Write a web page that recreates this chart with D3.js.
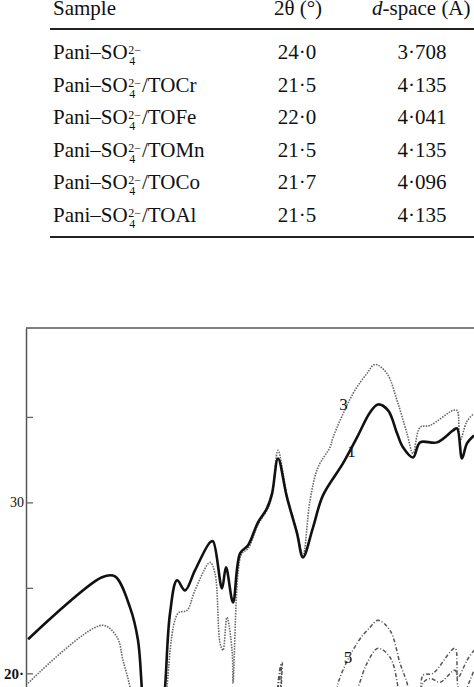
<!DOCTYPE html>
<html>
<head>
<meta charset="utf-8">
<script src="https://cdn.jsdelivr.net/npm/d3@7"></script>
<style>
    body { margin: 0; background: #fff; }
    svg { display: block; }
    text { font-family: "Liberation Serif", "Times New Roman", serif; fill: #111; }
</style>
</head>
<body>
<div id="chart"></div>
<script>
// Table data
var sampleSuffix = ['', '/TOCr', '/TOFe', '/TOMn', '/TOCo', '/TOAl'];
var twoTheta = ['24·0', '21·5', '22·0', '21·5', '21·7', '21·5'];
var dSpace = ['3·708', '4·135', '4·041', '4·135', '4·096', '4·135'];

// Axis ticks
var yTicks = [20, 25, 30, 35];
var yTickLabels = {20: '20·', 30: '30'};

// Pattern curves [2theta, intensity]
var curve1 = [[5.13, 21.99], [9.75, 25.62], [10.56, 25.67], [11.5, 23.86], [12.0, 21.93], [12.25, 19.0],
    [12.4, 17.5], [13.5, 17.5], [13.69, 19.2], [14.0, 23.5], [14.44, 25.44], [14.94, 24.85], [15.56, 26.02],
    [16.5, 27.66], [16.69, 27.72], [17.25, 24.97], [17.5, 26.2], [17.94, 24.15], [18.38, 27.02], [18.88, 27.49],
    [19.5, 28.83], [20.06, 29.65], [20.38, 30.53], [20.75, 32.57], [21.31, 30.29], [21.94, 28.19], [22.31, 26.78],
    [22.94, 28.54], [23.56, 30.41], [24.81, 32.28], [25.69, 33.8], [26.5, 35.26], [27.0, 35.73], [27.63, 35.38],
    [28.19, 34.04], [28.56, 33.22], [29.19, 32.63], [29.63, 33.51], [30.69, 33.51], [31.69, 34.21], [31.94, 34.33],
    [32.25, 32.57], [32.56, 33.45], [33.0, 33.92]];

var curve3 = [[5.13, 19.42], [9.75, 22.81], [10.69, 22.11], [11.06, 20.76], [11.5, 19.18], [11.7, 17.5],
    [13.7, 17.5], [13.81, 19.18], [14.5, 23.51], [15.06, 23.68], [15.56, 24.85], [16.5, 26.49], [16.81, 25.85],
    [17.13, 21.76], [17.31, 21.35], [17.56, 23.27], [17.88, 21.35], [17.94, 19.42], [18.25, 25.85], [18.5, 27.02],
    [18.88, 27.3], [19.5, 28.7], [20.06, 29.55], [20.38, 30.4], [20.75, 33.04], [21.31, 30.4], [21.94, 28.3],
    [22.31, 26.9], [22.75, 30.12], [23.25, 32.05], [24.0, 33.22], [24.19, 33.8], [25.44, 36.37], [26.31, 37.54],
    [26.81, 38.07], [27.56, 37.54], [28.19, 35.96], [28.81, 34.04], [29.19, 32.86], [29.63, 34.39], [30.25, 34.5],
    [31.69, 35.38], [31.94, 35.38], [32.13, 33.62], [32.56, 34.74], [33.0, 35.2]];

var curve4 = [[20.6, 17.5], [21.0, 20.64], [21.3, 17.5], [25.0, 17.5], [25.75, 19.18], [26.31, 20.58],
    [27.0, 21.46], [27.75, 20.94], [28.25, 19.18], [28.4, 17.5], [29.6, 17.5], [29.81, 19.42], [30.25, 19.7],
    [30.88, 19.48], [31.81, 20.18], [32.0, 19.18], [32.2, 18.6], [33.0, 20.18]];

var curve5 = [[20.55, 17.5], [20.94, 20.5], [21.25, 17.5], [24.2, 17.5], [24.5, 19.42], [25.69, 21.76],
    [26.5, 22.69], [27.0, 23.1], [27.75, 22.51], [28.38, 20.58], [28.88, 19.18], [29.0, 17.5], [29.6, 17.5],
    [29.81, 19.88], [30.44, 20.0], [31.81, 21.46], [32.0, 19.76], [32.56, 20.76], [33.0, 21.35]];

var curveLabels = [{t: '3', x: 24.85, y: 35.4}, {t: '1', x: 25.35, y: 32.65}, {t: '5', x: 25.13, y: 20.6}];

var width = 474, height = 687;
var svg = d3.select('#chart').append('svg').attr('width', width).attr('height', height);

// ---- Table ----
var table = svg.append('g');
var rowY = d3.scaleLinear().domain([0, 5]).range([59, 222]);

table.append('text').attr('x', 53).attr('y', 15).attr('font-size', 21).text('Sample');
table.append('text').attr('x', 298).attr('y', 15).attr('font-size', 21).attr('text-anchor', 'middle').text('2θ (°)');
var dh = table.append('text').attr('x', 372).attr('y', 15).attr('font-size', 21);
dh.append('tspan').attr('font-style', 'italic').text('d');
dh.append('tspan').text('-space (A)');

table.append('line').attr('x1', 50).attr('x2', width).attr('y1', 29).attr('y2', 29)
    .attr('stroke', '#222').attr('stroke-width', 2);
table.append('line').attr('x1', 50).attr('x2', width).attr('y1', 237).attr('y2', 237)
    .attr('stroke', '#222').attr('stroke-width', 2);

sampleSuffix.forEach(function(s, i) {
    var yb = rowY(i);
    var base = table.append('text').attr('x', 53).attr('y', yb).attr('font-size', 21).text('Pani–SO');
    var w = base.node().getComputedTextLength();
    // charge over subscript, kept in one text element
    var ion = table.append('text').attr('x', 53 + w + 0.5).attr('y', yb - 5).attr('font-size', 12);
    var sup = ion.append('tspan').text('2−');
    var sw = sup.node().getComputedTextLength();
    ion.append('tspan').attr('dx', -sw + 1).attr('dy', 11).text('4');
    if (s) {
        table.append('text').attr('x', 53 + w + sw + 1.5).attr('y', yb).attr('font-size', 21).text(s);
    }
    table.append('text').attr('x', 297).attr('y', yb).attr('font-size', 21)
        .attr('text-anchor', 'middle').text(twoTheta[i]);
    table.append('text').attr('x', 422).attr('y', yb).attr('font-size', 21)
        .attr('text-anchor', 'middle').text(dSpace[i]);
});

// ---- Chart ----
var x = d3.scaleLinear().domain([5, 33]).range([26, 474]);
var y = d3.scaleLinear().domain([19.2, 40.2]).range([687, 328]);

svg.append('clipPath').attr('id', 'plotclip')
    .append('rect').attr('x', 26).attr('y', 328).attr('width', 448).attr('height', 359);

// frame top
svg.append('line').attr('x1', x.range()[0]).attr('x2', x.range()[1])
    .attr('y1', y.range()[1]).attr('y2', y.range()[1])
    .attr('stroke', '#555').attr('stroke-width', 1.6);

var yAxis = svg.append('g').attr('transform', 'translate(' + x.range()[0] + ',0)')
    .call(d3.axisLeft(y).tickValues(yTicks).tickSizeInner(-7).tickSizeOuter(0).tickPadding(2)
        .tickFormat(function(d) { return yTickLabels[d] || ''; }));
yAxis.select('.domain').attr('stroke', '#555').attr('stroke-width', 1.5);
yAxis.selectAll('.tick line').attr('stroke', '#666').attr('stroke-width', 1.3);
yAxis.selectAll('.tick text').attr('font-family', '"Liberation Serif", serif')
    .attr('font-size', function(d) { return d === 20 ? 15 : 14; })
    .attr('font-weight', function(d) { return d === 20 ? 'bold' : 'normal'; })
    .attr('fill', function(d) { return d === 20 ? '#111' : '#555'; });

var line = d3.line()
    .x(function(d) { return x(d[0]); })
    .y(function(d) { return y(d[1]); })
    .curve(d3.curveCatmullRom.alpha(0.5));

var plot = svg.append('g').attr('clip-path', 'url(#plotclip)');

plot.append('path').datum(curve5).attr('d', line).attr('fill', 'none')
    .attr('stroke', '#555').attr('stroke-width', 1.5).attr('stroke-dasharray', '4,2,1,2');
plot.append('path').datum(curve4).attr('d', line).attr('fill', 'none')
    .attr('stroke', '#555').attr('stroke-width', 1.5).attr('stroke-dasharray', '4,2,1,2');
plot.append('path').datum(curve3).attr('d', line).attr('fill', 'none')
    .attr('stroke', '#666').attr('stroke-width', 1.6).attr('stroke-dasharray', '1.5,1.2');
plot.append('path').datum(curve1).attr('d', line).attr('fill', 'none')
    .attr('stroke', '#111').attr('stroke-width', 2.6);

plot.selectAll('.clabel').data(curveLabels).enter().append('text')
    .attr('class', 'clabel')
    .attr('x', function(d) { return x(d.x); })
    .attr('y', function(d) { return y(d.y); })
    .attr('text-anchor', 'middle')
    .attr('font-size', 17)
    .attr('fill', '#222')
    .text(function(d) { return d.t; });
</script>
</body>
</html>
